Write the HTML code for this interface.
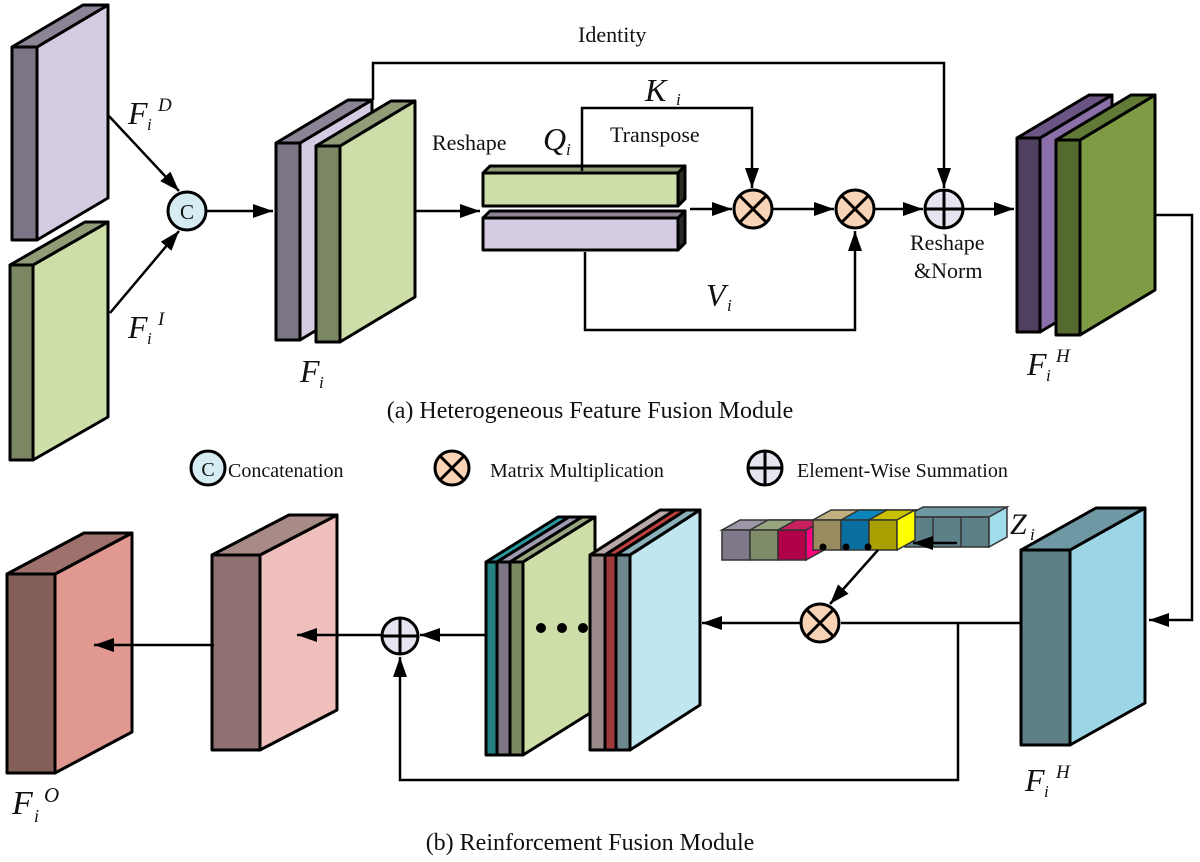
<!DOCTYPE html>
<html><head><meta charset="utf-8"><style>
html,body{margin:0;padding:0;background:#fff;width:1200px;height:862px;overflow:hidden}
svg text{font-family:"Liberation Serif",serif;fill:#111}
</style></head><body>
<svg width="1200" height="862" viewBox="0 0 1200 862" xmlns="http://www.w3.org/2000/svg">
<defs>
<marker id="A" viewBox="0 0 20 14" refX="20" refY="7" markerWidth="20" markerHeight="14" orient="auto" markerUnits="userSpaceOnUse"><path d="M0,0 L20,7 L0,14 z" fill="#000"/></marker>
</defs>
<g stroke="#000" stroke-width="3" stroke-linejoin="round">
<polygon points="12,47 37,47 37,240 12,240" fill="#7d7585"/>
<polygon points="37,47 108,5 108,198 37,240" fill="#d5cce3"/>
<polygon points="12,47 83,5 108,5 37,47" fill="#8c8496"/>
<polygon points="10,265 33,265 33,460 10,460" fill="#7a8762"/>
<polygon points="33,265 108,222 108,417 33,460" fill="#cddea8"/>
<polygon points="10,265 85,222 108,222 33,265" fill="#8f9c76"/>
<polygon points="276,143 300,143 300,340 276,340" fill="#7d7585"/>
<polygon points="300,143 372,100 372,297 300,340" fill="#d5cce3"/>
<polygon points="276,143 348,100 372,100 300,143" fill="#8c8496"/>
<polygon points="316,146 340,146 340,342 316,342" fill="#7a8762"/>
<polygon points="340,146 415,101 415,297 340,342" fill="#cddea8"/>
<polygon points="316,146 391,101 415,101 340,146" fill="#8f9c76"/>
<polygon points="1017,138 1040,138 1040,332 1017,332" fill="#4f4060"/>
<polygon points="1040,138 1112,95 1112,289 1040,332" fill="#8a6fa8"/>
<polygon points="1017,138 1089,95 1112,95 1040,138" fill="#6a5585"/>
<polygon points="1056,140 1080,140 1080,335 1056,335" fill="#546a2e"/>
<polygon points="1080,140 1155,95 1155,290 1080,335" fill="#7f9c45"/>
<polygon points="1056,140 1131,95 1155,95 1080,140" fill="#617a35"/>
<polygon points="483,173 490,166 685,166 678,173" fill="#8f9c76"/>
<polygon points="678,173 685,166 685,199 678,206" fill="#2a3020"/>
<rect x="483" y="173" width="195" height="33" fill="#cddea8"/>
<polygon points="483,218 490,211 685,211 678,218" fill="#8c8496"/>
<polygon points="678,218 685,211 685,243 678,250" fill="#2a2a2a"/>
<rect x="483" y="218" width="195" height="32" fill="#d5cce3"/>
<polygon points="1021,550 1070,550 1070,745 1021,745" fill="#5e7f86"/>
<polygon points="1070,550 1145,508 1145,703 1070,745" fill="#9cd6e6"/>
<polygon points="1021,550 1096,508 1145,508 1070,550" fill="#6e98a3"/>
<polygon points="212,555 260,555 260,750 212,750" fill="#8e7170"/>
<polygon points="260,555 337,515 337,710 260,750" fill="#efc0bb"/>
<polygon points="212,555 289,515 337,515 260,555" fill="#a88a87"/>
<polygon points="7,574 55,574 55,773 7,773" fill="#845f5a"/>
<polygon points="55,574 132,533 132,732 55,773" fill="#e09890"/>
<polygon points="7,574 84,533 132,533 55,574" fill="#9f716d"/>
<polygon points="486,562 558,517 569,517 497,562" fill="#2a9aa0"/>
<polygon points="486,562 497,562 497,755 486,755" fill="#237f80"/>
<polygon points="497,562 569,517 582,517 510,562" fill="#a09ab0"/>
<polygon points="497,562 510,562 510,755 497,755" fill="#7d7585"/>
<polygon points="510,562 582,517 595,517 523,562" fill="#98a680"/>
<polygon points="510,562 523,562 523,755 510,755" fill="#7a8a60"/>
<polygon points="523,562 595,517 595,710 523,755" fill="#cddea8"/>
<polygon points="590,555 660,510 675,510 605,555" fill="#b8a8a8"/>
<polygon points="590,555 605,555 605,750 590,750" fill="#9a8a8a"/>
<polygon points="605,555 675,510 686,510 616,555" fill="#c04040"/>
<polygon points="605,555 616,555 616,750 605,750" fill="#a03a3a"/>
<polygon points="616,555 686,510 700,510 630,555" fill="#8ab0ba"/>
<polygon points="616,555 630,555 630,750 616,750" fill="#6e8890"/>
<polygon points="630,555 700,510 700,705 630,750" fill="#c0e6ef"/>
</g>
<g fill="#000"><circle cx="541" cy="628" r="5"/><circle cx="562" cy="628" r="5"/><circle cx="583" cy="628" r="5"/></g>
<g stroke="#333" stroke-width="1.5">
<polygon points="905,517 923,507 1007,507 989,517" fill="#6e98a3"/>
<rect x="905" y="517" width="84" height="30" fill="#5d7f88"/>
<line x1="933" y1="517" x2="933" y2="547"/><line x1="961" y1="517" x2="961" y2="547"/>
<polygon points="989,517 1007,507 1007,537 989,547" fill="#a0dcea"/>
<polygon points="722,530 740,520 824,520 806,530" fill="#9d96a6"/>
<polygon points="750,530 768,520 796,520 778,530" fill="#98a680"/>
<rect x="722" y="530" width="28" height="30" fill="#7f7889"/>
<rect x="750" y="530" width="28" height="30" fill="#7f8c68"/>
<rect x="778" y="530" width="28" height="30" fill="#b0004a"/>
<polygon points="778,530 796,520 824,520 806,530" fill="#c8205f"/>
<polygon points="806,530 824,520 824,550 806,560" fill="#ff0080"/>
<polygon points="813,520 831,510 915,510 897,520" fill="#c0b080"/>
<polygon points="841,520 859,510 887,510 869,520" fill="#0a86bb"/>
<polygon points="869,520 887,510 915,510 897,520" fill="#c8c000"/>
<rect x="813" y="520" width="28" height="30" fill="#9a8a60"/>
<rect x="841" y="520" width="28" height="30" fill="#0a6e9e"/>
<rect x="869" y="520" width="28" height="30" fill="#a8a000"/>
<polygon points="897,520 915,510 915,540 897,550" fill="#ffff00"/>
</g>
<g fill="#000"><circle cx="823" cy="547" r="3.5"/><circle cx="846" cy="547" r="3.5"/><circle cx="868" cy="547" r="3.5"/></g>
<g stroke="#000" stroke-width="2.5" fill="none">
<line x1="108" y1="115" x2="179" y2="191" marker-end="url(#A)"/>
<line x1="110" y1="313" x2="179" y2="231" marker-end="url(#A)"/>
<line x1="207" y1="211" x2="273" y2="211" marker-end="url(#A)"/>
<line x1="415" y1="211" x2="480" y2="211" marker-end="url(#A)"/>
<polyline points="373,100 373,63 944,63 944,188" marker-end="url(#A)"/>
<polyline points="582,171 582,108 752,108 752,188" marker-end="url(#A)"/>
<line x1="690" y1="209" x2="732" y2="209" marker-end="url(#A)"/>
<line x1="772" y1="209" x2="834" y2="209" marker-end="url(#A)"/>
<line x1="874" y1="209" x2="923" y2="209" marker-end="url(#A)"/>
<line x1="963" y1="209" x2="1014" y2="209" marker-end="url(#A)"/>
<polyline points="585,252 585,330 855,330 855,231" marker-end="url(#A)"/>
<polyline points="1155,215 1192,215 1192,620 1149,620" marker-end="url(#A)"/>
<line x1="1021" y1="623" x2="841" y2="623"/>
<line x1="800" y1="623" x2="702" y2="623" marker-end="url(#A)"/>
<polyline points="958,623 958,780 400,780 400,657" marker-end="url(#A)"/>
<line x1="957" y1="543" x2="913" y2="543" marker-end="url(#A)"/>
<line x1="878" y1="550" x2="830" y2="604" marker-end="url(#A)"/>
<line x1="487" y1="635" x2="420" y2="635" marker-end="url(#A)"/>
<line x1="382" y1="635" x2="297" y2="635" marker-end="url(#A)"/>
<line x1="214" y1="645" x2="94" y2="645" marker-end="url(#A)"/>
</g>
<g stroke="#000" stroke-width="3">
<circle cx="187" cy="211" r="19" fill="#d6ecf3"/>
<circle cx="753" cy="209" r="19" fill="#f8d3b5"/>
<line x1="740" y1="196" x2="766" y2="222"/><line x1="766" y1="196" x2="740" y2="222"/>
<circle cx="855" cy="209" r="19" fill="#f8d3b5"/>
<line x1="842" y1="196" x2="868" y2="222"/><line x1="868" y1="196" x2="842" y2="222"/>
<circle cx="944" cy="209" r="19" fill="#e6e4ee"/>
<line x1="925" y1="209" x2="963" y2="209"/><line x1="944" y1="190" x2="944" y2="228"/>
<circle cx="820" cy="623" r="19" fill="#f8d3b5"/>
<line x1="807" y1="610" x2="833" y2="636"/><line x1="833" y1="610" x2="807" y2="636"/>
<circle cx="400" cy="636" r="18" fill="#e6e4ee"/>
<line x1="382" y1="636" x2="418" y2="636"/><line x1="400" y1="618" x2="400" y2="654"/>
<circle cx="208" cy="468" r="17" fill="#d6ecf3"/>
<circle cx="452" cy="468" r="17" fill="#f8d3b5"/>
<line x1="440" y1="456" x2="464" y2="480"/><line x1="464" y1="456" x2="440" y2="480"/>
<circle cx="765" cy="468" r="17" fill="#e6e4ee"/>
<line x1="748" y1="468" x2="782" y2="468"/><line x1="765" y1="451" x2="765" y2="485"/>
</g>
<text x="187" y="219" font-size="21" text-anchor="middle">C</text>
<text x="208" y="476" font-size="20" text-anchor="middle">C</text>
<text x="228" y="477" font-size="20">Concatenation</text>
<text x="490" y="477" font-size="20">Matrix Multiplication</text>
<text x="797" y="477" font-size="20">Element-Wise Summation</text>
<text x="578" y="42" font-size="22">Identity</text>
<text x="432" y="150" font-size="22">Reshape</text>
<text x="610" y="142" font-size="22">Transpose</text>
<text x="910" y="250" font-size="22">Reshape</text>
<text x="914" y="278" font-size="22">&amp;Norm</text>
<text x="590" y="418" font-size="24" text-anchor="middle">(a) Heterogeneous Feature Fusion Module</text>
<text x="590" y="850" font-size="24" text-anchor="middle">(b) Reinforcement Fusion Module</text>
<g font-style="italic">
<text x="128" y="124" font-size="32" font-style="italic">F</text><text x="147" y="130" font-size="17" font-style="italic">i</text><text x="158" y="111" font-size="19" font-style="italic">D</text>
<text x="128" y="338" font-size="32" font-style="italic">F</text><text x="147" y="344" font-size="17" font-style="italic">i</text><text x="158" y="325" font-size="19" font-style="italic">I</text>
<text x="300" y="382" font-size="32" font-style="italic">F</text><text x="319" y="388" font-size="17" font-style="italic">i</text>
<text x="543" y="150" font-size="32" font-style="italic">Q</text><text x="566" y="155" font-size="17" font-style="italic">i</text>
<text x="645" y="101" font-size="32" font-style="italic">K</text><text x="676" y="105" font-size="17" font-style="italic">i</text>
<text x="706" y="306" font-size="32" font-style="italic">V</text><text x="727" y="311" font-size="17" font-style="italic">i</text>
<text x="1027" y="375" font-size="32" font-style="italic">F</text><text x="1046" y="381" font-size="17" font-style="italic">i</text><text x="1056" y="362" font-size="19" font-style="italic">H</text>
<text x="1025" y="791" font-size="32" font-style="italic">F</text><text x="1044" y="797" font-size="17" font-style="italic">i</text><text x="1056" y="778" font-size="19" font-style="italic">H</text>
<text x="1010" y="534" font-size="30" font-style="italic">Z</text><text x="1030" y="540" font-size="17" font-style="italic">i</text>
<text x="12" y="814" font-size="34" font-style="italic">F</text><text x="34" y="822" font-size="18" font-style="italic">i</text><text x="44" y="802" font-size="21" font-style="italic">O</text>
</g>
</svg>
</body></html>
